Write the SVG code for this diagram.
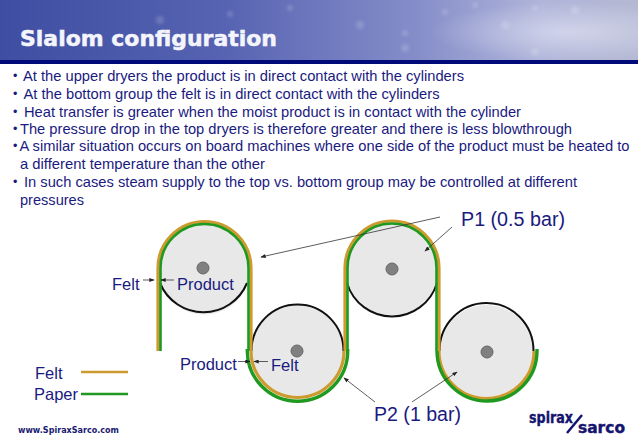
<svg xmlns="http://www.w3.org/2000/svg" width="638" height="442" viewBox="0 0 638 442">
<style>
.t{font-family:"Liberation Sans",Arial,sans-serif;fill:#1a1a80}
.b{font-size:14.5px}
.d{font-size:12.5px}
.l{font-size:16.5px}
.p{font-size:20px}
.cyl{fill:#e8e8e8}
.bk{fill:none;stroke:#111;stroke-width:2}
.hub{fill:#808080;stroke:#666;stroke-width:1}
.f{fill:none;stroke:#cc9a2e;stroke-width:3.2}
.gt{fill:none;stroke:#1f991f;stroke-width:2.600}
.gb{fill:none;stroke:#1f991f;stroke-width:3.400}
.ld{fill:none;stroke:#333;stroke-width:.8}
.sp{fill:#fff;opacity:.16}
.logo{font-family:"DejaVu Sans",sans-serif;font-weight:700;font-size:16px;fill:#14146e;stroke:#14146e;stroke-width:.4}
</style>
<defs>
<linearGradient id="hd" x1="0" y1="0" x2="1" y2="0">
<stop offset="0" stop-color="#3f4ea2"/><stop offset=".35" stop-color="#5663b2"/><stop offset=".65" stop-color="#858dc9"/><stop offset=".85" stop-color="#b0b5da"/><stop offset="1" stop-color="#b4b8d2"/>
</linearGradient>
<radialGradient id="gl" cx=".5" cy=".5" r=".5"><stop offset="0" stop-color="#e4e7f6" stop-opacity=".6"/><stop offset="1" stop-color="#e4e7f6" stop-opacity="0"/></radialGradient>
<filter id="bl" x="-50%" y="-50%" width="200%" height="200%"><feGaussianBlur stdDeviation="1.500"/></filter>
<clipPath id="hc"><rect width="638" height="60"/></clipPath>
<marker id="a" viewBox="0 0 8 6" refX="7" refY="3" markerWidth="7" markerHeight="5" orient="auto"><path d="M0 0L8 3L0 6Z" fill="#222"/></marker>
</defs>
<rect width="638" height="442" fill="#fff"/>
<g id="header">
<rect width="638" height="60" fill="url(#hd)"/>
<g clip-path="url(#hc)">
<ellipse cx="570" cy="32" rx="140" ry="30" fill="url(#gl)"/>
<g filter="url(#bl)">
<circle class="sp" cx="360" cy="25" r="4"/><circle class="sp" cx="405" cy="33" r="3"/><circle class="sp" cx="445" cy="12" r="3"/><circle class="sp" cx="505" cy="25" r="4"/><circle class="sp" cx="535" cy="8" r="3"/><circle class="sp" cx="535" cy="52" r="4"/><circle class="sp" cx="405" cy="48" r="4"/><circle class="sp" cx="575" cy="10" r="4"/><circle class="sp" cx="475" cy="5" r="3"/><circle class="sp" cx="290" cy="8" r="3"/><circle class="sp" cx="230" cy="14" r="3"/><circle class="sp" cx="160" cy="20" r="4"/>
</g>
</g>
<rect y="60" width="638" height="4" fill="#000a78"/>
<text x="20" y="46" font-family="'DejaVu Sans',sans-serif" font-weight="700" font-size="21" fill="#f4f5fb" stroke="#f4f5fb" stroke-width=".5" textLength="257" lengthAdjust="spacingAndGlyphs">Slalom configuration</text>
</g>
<g id="bullets" class="t b">
<text class="d" x="13" y="80">•</text><text x="23" y="81" textLength="441" lengthAdjust="spacingAndGlyphs">At the upper dryers the product is in direct contact with the cylinders</text>
<text class="d" x="13" y="98">•</text><text x="23.500" y="99" textLength="416" lengthAdjust="spacingAndGlyphs">At the bottom group the felt is in direct contact with the cylinders</text>
<text class="d" x="13" y="116">•</text><text x="24" y="117" textLength="497" lengthAdjust="spacingAndGlyphs">Heat transfer is greater when the moist product is in contact with the cylinder</text>
<text class="d" x="13" y="133">•</text><text x="20" y="134" textLength="552" lengthAdjust="spacingAndGlyphs">The pressure drop in the top dryers is therefore greater and there is less blowthrough</text>
<text class="d" x="13" y="150">•</text><text x="19.500" y="151" textLength="610" lengthAdjust="spacingAndGlyphs">A similar situation occurs on board machines where one side of the product must be heated to</text>
<text x="20" y="169" textLength="245" lengthAdjust="spacingAndGlyphs">a different temperature than the other</text>
<text class="d" x="13" y="186">•</text><text x="24" y="187" textLength="553" lengthAdjust="spacingAndGlyphs">In such cases steam supply to the top vs. bottom group may be controlled at different</text>
<text x="20" y="205" textLength="64" lengthAdjust="spacingAndGlyphs">pressures</text>
</g>
<g id="cylinder-1"><circle class="cyl" cx="204" cy="268.500" r="46"/><path class="bk" d="M160 283A47 47 0 0 0 247 283"/><circle class="hub" cx="203" cy="268" r="6"/></g>
<g id="cylinder-2"><circle class="cyl" cx="297.500" cy="351" r="46"/><path class="bk" d="M251.500 351A46 46.500 0 0 1 343.500 351"/><circle class="hub" cx="297" cy="351" r="6"/></g>
<g id="cylinder-3"><circle class="cyl" cx="392" cy="269" r="46"/><path class="bk" d="M347 283A47 47 0 0 0 437 283"/><circle class="hub" cx="392" cy="269" r="6"/></g>
<g id="cylinder-4"><circle class="cyl" cx="486.500" cy="351" r="46"/><path class="bk" d="M439.500 351A47 48 0 0 1 533.500 351"/><circle class="hub" cx="487" cy="352" r="6"/></g>
<g id="connectors">
<path class="f" d="M158 351V268A46.500 46.500 0 0 1 251 268V351A46.500 46.500 0 0 0 344 351"/>
<path class="gt" d="M160.500 351V268A44 44 0 0 1 248.500 268V351"/>
<path class="gb" d="M247.300 349V351A50 50 0 0 0 347.700 351V349"/>
<path class="f" d="M345 351V268A47 47 0 0 1 439 268V351A47 47 0 0 0 534 351"/>
<path class="gt" d="M347.500 351V268A44.500 44.500 0 0 1 436.500 268V351"/>
<path class="gb" d="M437 351A50 50 0 0 0 537 351V349"/>
<path class="ld" marker-end="url(#a)" d="M440 217L261 257"/>
<path class="ld" marker-end="url(#a)" d="M452 227L425 251"/>
<path class="ld" marker-end="url(#a)" d="M375 402L344 378"/>
<path class="ld" marker-end="url(#a)" d="M412 402L457 372"/>
<path class="ld" marker-end="url(#a)" d="M143 280H154"/>
<path class="ld" marker-end="url(#a)" d="M174 280H161"/>
<path class="ld" marker-end="url(#a)" d="M238 361.500H250"/>
<path class="ld" marker-end="url(#a)" d="M268 361.500H254"/>
</g>
<g id="labels" class="t">
<text class="l" x="112" y="290">Felt</text>
<text class="l" x="177" y="290">Product</text>
<text class="l" x="180" y="370">Product</text>
<text class="l" x="271" y="370.500">Felt</text>
<text class="p" x="461" y="226" textLength="104" lengthAdjust="spacingAndGlyphs">P1 (0.5 bar)</text>
<text class="p" x="374" y="421" textLength="87" lengthAdjust="spacingAndGlyphs">P2 (1 bar)</text>
<text class="l" x="35" y="379">Felt</text>
<text class="l" x="34" y="400">Paper</text>
</g>
<g id="legend">
<path d="M81 372H128" fill="none" stroke="#cc9a2e" stroke-width="2.600"/>
<path d="M81 394H128" fill="none" stroke="#1f991f" stroke-width="2.600"/>
</g>
<g id="footer">
<text x="18" y="433" font-family="'DejaVu Sans',sans-serif" font-weight="700" font-size="9.500" fill="#1a1a70" textLength="101" lengthAdjust="spacingAndGlyphs">www.SpiraxSarco.com</text>
<text class="logo" x="529" y="423" textLength="44" lengthAdjust="spacingAndGlyphs">spirax</text>
<text class="logo" x="578" y="433" textLength="47" lengthAdjust="spacingAndGlyphs">sarco</text>
<path d="M567 433L582 415" fill="none" stroke="#14146e" stroke-width="2.500"/>
</g>
</svg>
